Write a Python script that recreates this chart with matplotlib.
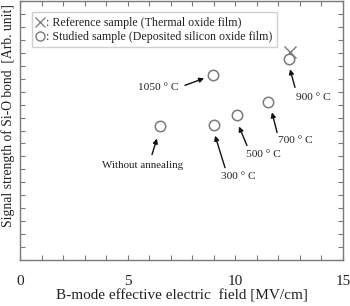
import matplotlib
matplotlib.use("Agg")
import matplotlib.pyplot as plt
from matplotlib.lines import Line2D

plt.rcParams['font.family'] = ['Liberation Serif', 'DejaVu Serif']

# Data
labels = ["Without annealing", "300 ° C", "500 ° C", "700 ° C", "900 ° C", "1050 ° C"]
field = [6.50, 9.02, 10.06, 11.50, 12.51, 8.95]
signal = [10.33, 10.44, 11.16, 12.20, 15.50, 14.26]
ref_field = [12.54]
ref_signal = [16.07]

# annotation text position, arrow tail and head, for each label
text_pos = [(5.71, 7.29), (10.13, 6.43), (11.29, 8.14), (12.77, 9.22), (13.6, 12.56), (6.41, 13.33)]
tail_pos = [(6.13, 8.14), (9.52, 7.13), (10.54, 8.84), (11.94, 9.84), (12.77, 13.33), (7.66, 13.49)]
head_pos = [(6.36, 9.38), (9.06, 9.6), (10.17, 10.31), (11.7, 11.4), (12.54, 14.73), (8.55, 14.03)]

grey = '#7a7a7a'
txt = '#222222'

fig = plt.figure(figsize=(3.5, 3.06), dpi=100)
ax = fig.add_axes([20/350, 1 - 260/306, 323/350, 259/306])

ax.plot(field, signal, linestyle='none', marker='o', markersize=7.5,
        markerfacecolor='white', markeredgecolor=grey, markeredgewidth=1.1, zorder=3)
ax.plot(ref_field, ref_signal, linestyle='none', marker='x', markersize=9,
        markeredgecolor=grey, markeredgewidth=1.0, zorder=2)

for lab, tp, tl, hd in zip(labels, text_pos, tail_pos, head_pos):
    fs = 7.8 if lab.startswith("Without") else 8.2
    ax.text(tp[0], tp[1], lab, ha='center', va='center', fontsize=fs, color=txt)
    ax.annotate('', xy=hd, xytext=tl,
                arrowprops=dict(arrowstyle='-|>', color='#111111', lw=1.0,
                                mutation_scale=7, shrinkA=0, shrinkB=0))

ax.set_xlim(0, 15)
ax.set_ylim(0, 20)
ax.set_xticks([0, 5, 10, 15])
ax.set_xticks(range(0, 16), minor=True)
ax.set_yticks(range(0, 21))
ax.set_yticklabels([])
ax.tick_params(axis='both', which='both', direction='in', top=True, right=True,
               color=grey, length=3.5, width=0.8)
ax.tick_params(axis='x', which='major', labelsize=11, pad=11, labelcolor=txt)
for s in ax.spines.values():
    s.set_color(grey)
    s.set_linewidth(1.0)

ax.set_xlabel("B-mode effective electric  field [MV/cm]", fontsize=11, color=txt, labelpad=1)
fig.text(8/350, 1 - 116/306, "Signal strength of Si-O bond  [Arb. unit]", rotation=90,
         ha='center', va='center', fontsize=9.8, color=txt)

handles = [Line2D([], [], linestyle='none', marker='x', markersize=6.5, markeredgecolor=grey, markeredgewidth=0.9),
           Line2D([], [], linestyle='none', marker='o', markersize=6.5, markerfacecolor='white',
                  markeredgecolor=grey, markeredgewidth=1.0)]
leg = ax.legend(handles, [": Reference sample (Thermal oxide film)",
                          ": Studied sample (Deposited silicon oxide film)"],
                loc='upper left', bbox_to_anchor=(0.018, 0.98), fontsize=8.6,
                handlelength=0.6, handletextpad=0.15, borderpad=0.4, labelspacing=0.15,
                frameon=True, fancybox=False, edgecolor='#d0d0d0', framealpha=1)
for t in leg.get_texts():
    t.set_color(txt)

fig.savefig("out.png", dpi=100)
